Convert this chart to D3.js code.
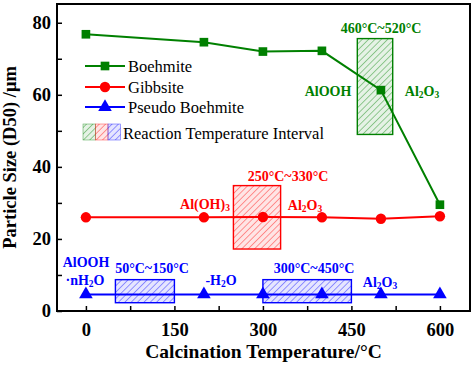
<!DOCTYPE html>
<html><head><meta charset="utf-8">
<script src="https://cdn.jsdelivr.net/npm/d3@7"></script>
<style>body{margin:0;background:#fff}svg{display:block}</style>
</head><body><svg id="c" width="474" height="366" font-family="Liberation Serif"></svg>
<script>
const temps = [0, 200, 300, 400, 500, 600];
const boehmite = [76.8, 74.6, 72.0, 72.2, 61.3, 29.5];
const gibbsite = [26.0, 26.0, 26.1, 26.0, 25.6, 26.3];
const pseudo = [4.6, 4.6, 4.6, 4.6, 4.6, 4.6];
const xTicks = [0, 150, 300, 450, 600];
const yTicks = [0, 20, 40, 60, 80];
const seriesNames = ["Boehmite", "Gibbsite", "Pseudo Boehmite"];
const intervals = [
  {x0: 460, x1: 520, y0: 49, y1: 75.6, c: "#008000"},
  {x0: 250, x1: 330, y0: 17.2, y1: 34.8, c: "#ff0000"},
  {x0: 50, x1: 150, y0: 2.3, y1: 8.7, c: "#0000ff"},
  {x0: 300, x1: 450, y0: 2.3, y1: 8.7, c: "#0000ff"}
];

const FF = "Liberation Serif";
const svg = d3.select("#c");
const L = 57, R = 470, T = 4, B = 311;
const x = d3.scaleLinear().domain([-49, 651]).range([L, R]);
const y = d3.scaleLinear().domain([0, 85.2]).range([B, T]);
const colors = ["#008000", "#ff0000", "#0000ff"];

// hatch patterns
const defs = svg.append("defs");
colors.forEach((c, i) => {
  const p = defs.append("pattern").attr("id", "h" + i).attr("patternUnits", "userSpaceOnUse")
    .attr("width", 4.5).attr("height", 4.5).attr("patternTransform", "rotate(45)");
  p.append("rect").attr("width", 4.5).attr("height", 4.5).attr("fill", c).attr("fill-opacity", 0.1);
  p.append("line").attr("x1", 0).attr("y1", 0).attr("x2", 0).attr("y2", 4.5)
    .attr("stroke", c).attr("stroke-width", 1).attr("stroke-opacity", 0.75);
});
const idx = c => colors.indexOf(c);

// intervals
svg.selectAll("rect.iv").data(intervals).enter().append("rect").attr("class", "iv")
  .attr("x", d => x(d.x0)).attr("y", d => y(d.y1))
  .attr("width", d => x(d.x1) - x(d.x0)).attr("height", d => y(d.y0) - y(d.y1))
  .attr("fill", d => `url(#h${idx(d.c)})`).attr("stroke", d => d.c).attr("stroke-width", 1.4);

// axes frame
svg.append("rect").attr("x", L).attr("y", T).attr("width", R - L).attr("height", B - T)
  .attr("fill", "none").attr("stroke", "#000").attr("stroke-width", 2);

const xAxis = svg.append("g").attr("transform", `translate(0,${B})`)
  .call(d3.axisBottom(x).tickValues(d3.range(0, 601, 75)).tickSizeInner(-5).tickSizeOuter(0)
    .tickFormat(d => xTicks.includes(d) ? d : ""));
xAxis.attr("font-family", FF);
xAxis.select(".domain").remove();
xAxis.selectAll("line").attr("stroke", "#000").attr("stroke-width", 1.5);
xAxis.selectAll("text").attr("y", 12).attr("font-size", 18.5).attr("font-weight", "bold")
  .attr("font-family", FF).attr("fill", "#000");

const yAxis = svg.append("g").attr("transform", `translate(${L},0)`)
  .call(d3.axisLeft(y).tickValues(d3.range(0, 81, 10)).tickSizeInner(-5).tickSizeOuter(0)
    .tickFormat(d => yTicks.includes(d) ? d : ""));
yAxis.attr("font-family", FF);
yAxis.select(".domain").remove();
yAxis.selectAll("line").attr("stroke", "#000").attr("stroke-width", 1.5);
yAxis.selectAll("text").attr("x", -6).attr("font-size", 18.5).attr("font-weight", "bold")
  .attr("font-family", FF).attr("fill", "#000");

// axis titles
svg.append("text").attr("x", (L + R) / 2).attr("y", 358).attr("text-anchor", "middle")
  .attr("font-family", FF).attr("font-size", 19.5).attr("font-weight", "bold").text("Calcination Temperature/°C");
svg.append("text").attr("transform", `translate(16,${(T + B) / 2}) rotate(-90)`)
  .attr("text-anchor", "middle").attr("font-family", FF).attr("font-size", 18.5).attr("font-weight", "bold")
  .text("Particle Size (D50) /μm");

// series
const all = [boehmite, gibbsite, pseudo];
const line = d3.line().x((d, i) => x(temps[i])).y(d => y(d));
all.forEach((s, k) => {
  svg.append("path").datum(s).attr("d", line).attr("fill", "none")
    .attr("stroke", colors[k]).attr("stroke-width", 2);
});
const sym = [d3.symbolSquare, d3.symbolCircle, d3.symbolTriangle];
const sizes = [75, 85, 80];
function marker(g, k, cx, cy) {
  g.append("path").attr("d", d3.symbol(sym[k], sizes[k])()).attr("transform", `translate(${cx},${cy})`)
    .attr("fill", colors[k]);
}
all.forEach((s, k) => s.forEach((v, i) => marker(svg, k, x(temps[i]), y(v))));

// legend
const ly = [66, 87, 107];
seriesNames.forEach((n, k) => {
  svg.append("line").attr("x1", 85).attr("x2", 125).attr("y1", ly[k]).attr("y2", ly[k])
    .attr("stroke", colors[k]).attr("stroke-width", 2);
  marker(svg, k, 105, ly[k]);
  svg.append("text").attr("x", 128).attr("y", ly[k] + 5.5).attr("font-family", FF).attr("font-size", 16.5).text(n);
});
colors.forEach((c, k) => {
  svg.append("rect").attr("x", 83 + k * 12.5).attr("y", 124).attr("width", 12.5).attr("height", 16)
    .attr("fill", `url(#h${k})`).attr("stroke", c).attr("stroke-width", 0.6).attr("stroke-opacity", 0.6);
});
svg.append("text").attr("x", 123).attr("y", 138.5).attr("font-family", FF).attr("font-size", 16.5)
  .text("Reaction Temperature Interval");

// annotations
function label(cx, cy, parts, c) {
  const t = svg.append("text").attr("x", cx).attr("y", cy).attr("text-anchor", "middle")
    .attr("font-family", FF).attr("font-size", 14).attr("font-weight", "bold").attr("fill", c);
  let inSub = false;
  parts.forEach(p => {
    if (typeof p === "string") {
      t.append("tspan").attr("dy", inSub ? -2 : 0).text(p); inSub = false;
    } else {
      t.append("tspan").attr("font-size", 9.5).attr("dy", inSub ? 0 : 2).text(p.sub); inSub = true;
    }
  });
}
label(381, 33, ["460°C~520°C"], "#008000");
label(328, 96, ["AlOOH"], "#008000");
label(422, 96, ["Al", {sub: "2"}, "O", {sub: "3"}], "#008000");
label(288, 181, ["250°C~330°C"], "#ff0000");
label(205, 209, ["Al(OH)", {sub: "3"}], "#ff0000");
label(305, 210, ["Al", {sub: "2"}, "O", {sub: "3"}], "#ff0000");
label(86, 267, ["AlOOH"], "#0000ff");
label(85, 285, ["·nH", {sub: "2"}, "O"], "#0000ff");
label(152, 273, ["50°C~150°C"], "#0000ff");
label(221, 285, ["-H", {sub: "2"}, "O"], "#0000ff");
label(314, 273, ["300°C~450°C"], "#0000ff");
label(380, 287, ["Al", {sub: "2"}, "O", {sub: "3"}], "#0000ff");
</script></body></html>
